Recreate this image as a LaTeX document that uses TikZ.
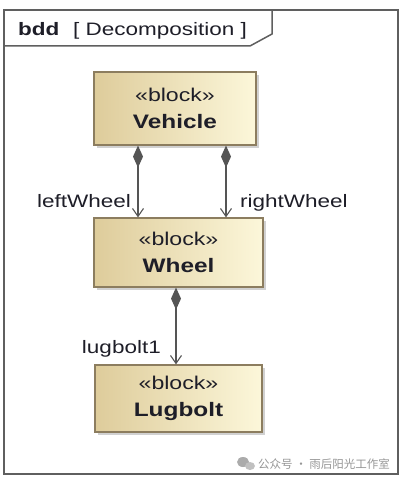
\documentclass[tikz,border=0pt]{standalone}
\usepackage{fontspec}
\setmainfont{Liberation Sans}[FakeStretch=1.25]
\newfontfamily\cjkfont{Noto Sans CJK SC}
\usetikzlibrary{arrows.meta,shadows}
\definecolor{framegray}{RGB}{95,95,95}
\definecolor{linegray}{RGB}{85,85,85}
\definecolor{boxborder}{RGB}{140,125,95}
\definecolor{boxdark}{RGB}{222,204,155}
\definecolor{boxlight}{RGB}{252,247,218}
\definecolor{txt}{RGB}{30,30,40}
\definecolor{wm}{RGB}{150,150,150}
\begin{document}
\begin{tikzpicture}[x=1pt,y=-1pt,
  blockbox/.style={draw=boxborder, line width=1.2pt, left color=boxdark, right color=boxlight,
    minimum width=#1, align=center, text=txt, inner sep=0pt,
    drop shadow={shadow xshift=3pt, shadow yshift=-3pt, fill=gray!45, opacity=0.8}},
  comp/.style={draw=linegray, line width=1.3pt,
    {Diamond[length=22pt,width=10pt,fill=linegray]}-{Straight Barb[length=8pt,width=11pt,line width=1.1pt]}},
  lbl/.style={font=\fontsize{18}{20}\selectfont, text=txt, inner sep=0pt}
]
\useasboundingbox (0,0) rectangle (405,481);
\fill[white] (0,0) rectangle (405,481);
% frame
\draw[framegray, line width=1.8pt] (4,10) rectangle (398,474);
\draw[framegray, line width=1.5pt] (4,46) -- (250,46) -- (272,34) -- (272,10);
\node[anchor=base west, inner sep=0pt, text=txt, font=\fontsize{18}{20}\selectfont\bfseries] (kind) at (18,36) {bdd};
\node[anchor=base west, inner sep=0pt, text=txt, font=\fontsize{18}{20}\selectfont] (title) at (73,36) {[ Decomposition ]};
% blocks
\node[blockbox=162pt, minimum height=73pt] (vehicle) at (175,108.5)
  {{\fontsize{18.5}{20}\selectfont «block»}\\[11pt]{\fontsize{19.5}{21}\selectfont\bfseries Vehicle}};
\node[blockbox=169pt, minimum height=69pt] (wheel) at (178.5,252.5)
  {{\fontsize{18.5}{20}\selectfont «block»}\\[11pt]{\fontsize{19.5}{21}\selectfont\bfseries Wheel}};
\node[blockbox=167pt, minimum height=67pt] (lugbolt) at (178.5,398.5)
  {{\fontsize{18.5}{20}\selectfont «block»}\\[11pt]{\fontsize{19.5}{21}\selectfont\bfseries Lugbolt}};
% connectors
\coordinate (lx) at (138,0);
\coordinate (rx) at (226,0);
\coordinate (bx) at (176,0);
\draw[comp] (vehicle.south -| lx) -- (wheel.north -| lx);
\draw[comp] (vehicle.south -| rx) -- (wheel.north -| rx);
\draw[comp] (wheel.south -| bx) -- (lugbolt.north -| bx);
\node[lbl, anchor=base east] (lwl) at (131,207) {leftWheel};
\node[lbl, anchor=base west] (rwl) at (240,207) {rightWheel};
\node[lbl, anchor=base east] (lbl1) at (161,353) {lugbolt1};
% watermark
\fill[wm!80] (243,462) ellipse (6pt and 5pt);
\fill[wm!60] (250,466) ellipse (5pt and 4pt);
\node[anchor=west, inner sep=0pt, text=wm, font=\cjkfont\fontsize{11.5}{12}\selectfont] (wmtext) at (258,464) {公众号 · 雨后阳光工作室};
\end{tikzpicture}
\end{document}
